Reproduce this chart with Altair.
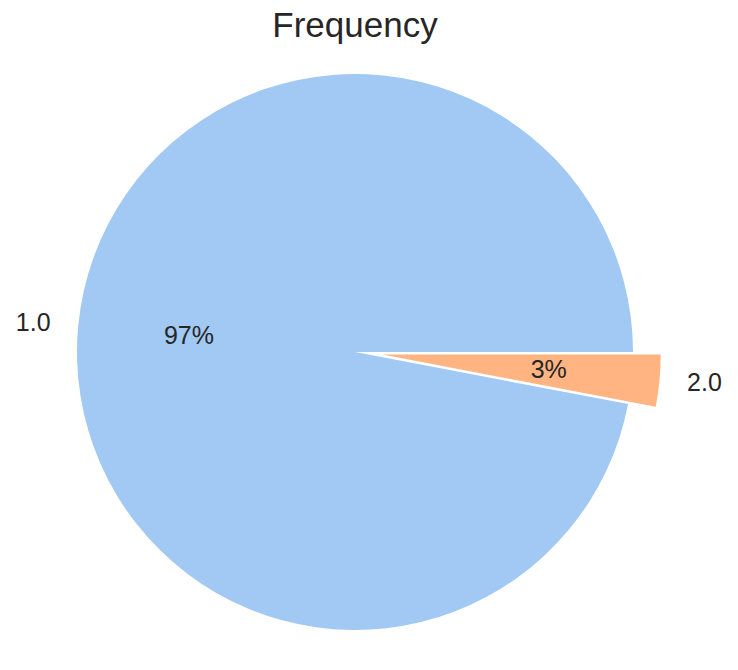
import math
import altair as alt
import pandas as pd

# ---- data ----
labels = ["1.0", "2.0"]
counts = [97, 3]
colors = ["#a1c9f4", "#ffb482"]
explode = [0.0, 0.1]

# ---- layout/style ----
R = 278
W, H = 694, 588
FONT = "Liberation Sans"
TXT = "#262626"

total = sum(counts)
df = pd.DataFrame({"label": labels, "count": counts, "idx": list(range(len(labels)))})

theta_scale = alt.Scale(domain=[0, 1], range=[math.pi / 2, math.pi / 2 - 2 * math.pi])
color_scale = alt.Scale(domain=labels, range=colors)

base = (
    alt.Chart(df)
    .transform_stack(stack="count", groupby=[], as_=["t0", "t1"], offset="normalize",
                     sort=[alt.SortField("idx", order="ascending")])
    .transform_calculate(tm="(datum.t0 + datum.t1) / 2",
                         pct="format(datum.t1 - datum.t0, '.0%')")
)

wedges, pcts, labs = [], [], []
cum = 0
for i, c in enumerate(counts):
    m = 2 * math.pi * (cum + c / 2) / total
    cum += c
    dx = explode[i] * R * math.cos(m)
    dy = -explode[i] * R * math.sin(m)
    sub = base.transform_filter(alt.datum.idx == i)
    wedges.append(
        sub.mark_arc(radius=R, xOffset=dx, yOffset=dy).encode(
            theta=alt.Theta("t0:Q", scale=theta_scale),
            theta2="t1:Q",
            color=alt.Color("label:N", scale=color_scale, legend=None),
        )
    )
    pcts.append(
        sub.mark_text(radius=0.6 * R, xOffset=dx, yOffset=dy, font=FONT, fontSize=25,
                      color=TXT, align="center", baseline="middle").encode(
            theta=alt.Theta("tm:Q", scale=theta_scale),
            text="pct:N",
        )
    )
    labs.append(
        sub.mark_text(radius=1.1 * R, xOffset=dx, yOffset=dy, font=FONT, fontSize=25,
                      color=TXT, align="left" if math.cos(m) > 0 else "right",
                      baseline="middle").encode(
            theta=alt.Theta("tm:Q", scale=theta_scale),
            text="label:N",
        )
    )

chart = (
    alt.layer(*wedges, *pcts, *labs)
    .properties(
        width=W,
        height=H,
        autosize="none",
        padding={"left": 0, "top": 50, "right": 26, "bottom": 0},
        title=alt.TitleParams("Frequency", font=FONT, fontSize=35, color=TXT,
                              fontWeight="normal", anchor="middle", offset=14),
    )
    .configure_view(stroke=None)
)

chart.save("out.html", embed_options={"renderer": "svg", "actions": False})
